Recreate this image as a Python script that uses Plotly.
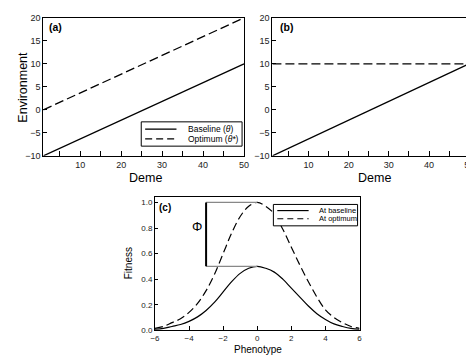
import plotly.graph_objects as go

# ---- data ----
deme = [1, 50]
baseline_env = [-10, 10]
optimum_env_a = [0, 20]
optimum_env_b = [10, 10]

phenotype = [-6, -5.5, -5, -4.5, -4, -3.5, -3, -2.5, -2, -1.5, -1, -0.5, 0,
             0.5, 1, 1.5, 2, 2.5, 3, 3.5, 4, 4.5, 5, 5.5, 6]
fit_optimum = [0.015, 0.03, 0.06, 0.09, 0.14, 0.21, 0.31, 0.44, 0.60, 0.76, 0.89, 0.97, 1.0,
               0.97, 0.91, 0.79, 0.65, 0.51, 0.38, 0.26, 0.16, 0.10, 0.06, 0.03, 0.015]
fit_baseline = [0.008, 0.015, 0.03, 0.045, 0.07, 0.105, 0.155, 0.22, 0.30, 0.38, 0.445, 0.485, 0.5,
                0.485, 0.455, 0.40, 0.33, 0.26, 0.19, 0.13, 0.085, 0.05, 0.03, 0.015, 0.008]

W, H = 474, 355
FONT = "Liberation Sans, Arial, sans-serif"
DASH = "9px,4px"


def px(x):
    return x / W


def py(y):
    return 1 - y / H


fig = go.Figure()

# panel a
fig.add_trace(go.Scatter(x=deme, y=baseline_env, mode="lines", line=dict(color="black", width=1.3),
                         xaxis="x", yaxis="y", showlegend=False, cliponaxis=False))
fig.add_trace(go.Scatter(x=deme, y=optimum_env_a, mode="lines", line=dict(color="black", width=1.3, dash=DASH),
                         xaxis="x", yaxis="y", showlegend=False, cliponaxis=False))
# panel b
fig.add_trace(go.Scatter(x=deme, y=baseline_env, mode="lines", line=dict(color="black", width=1.3),
                         xaxis="x2", yaxis="y2", showlegend=False, cliponaxis=False))
fig.add_trace(go.Scatter(x=deme, y=optimum_env_b, mode="lines", line=dict(color="black", width=1.3, dash=DASH),
                         xaxis="x2", yaxis="y2", showlegend=False, cliponaxis=False))
# panel c
fig.add_trace(go.Scatter(x=phenotype, y=fit_baseline, mode="lines", line=dict(color="black", width=1.2, shape="spline"),
                         xaxis="x3", yaxis="y3", showlegend=False))
fig.add_trace(go.Scatter(x=phenotype, y=fit_optimum, mode="lines",
                         line=dict(color="black", width=1.2, dash="8px,4px", shape="spline"),
                         xaxis="x3", yaxis="y3", showlegend=False))

tickfont = dict(family=FONT, size=9, color="#222")
common = dict(showgrid=False, zeroline=False, showline=True, mirror=True, linecolor="black", linewidth=1,
              ticks="inside", tickcolor="black", ticklen=5, tickfont=tickfont)

xa = dict(range=[1, 50], tick0=0, dtick=10, minor=dict(dtick=5, tick0=0, ticks="inside", ticklen=5, tickcolor="black"),
          **common)
ya = dict(range=[-10, 20], dtick=5, **{**common, "ticklen": 4})

fig.update_layout(
    width=W, height=H, margin=dict(l=0, r=0, t=0, b=0),
    paper_bgcolor="white", plot_bgcolor="white",
    xaxis=dict(domain=[px(31), px(236)], anchor="y", **xa),
    yaxis=dict(domain=[py(147), py(5)], anchor="x", **ya),
    xaxis2=dict(domain=[px(265), px(466)], anchor="y2", **xa),
    yaxis2=dict(domain=[py(147), py(5)], anchor="x2", **ya),
    xaxis3=dict(domain=[px(145), px(354)], anchor="y3", range=[-6, 6], dtick=2,
                **{**common, "tickfont": dict(family=FONT, size=8, color="#222"), "ticklen": 4}),
    yaxis3=dict(domain=[py(326.5), py(189)], anchor="x3", range=[0, 1.045], dtick=0.2, tickformat=".1f",
                **{**common, "tickfont": dict(family=FONT, size=8, color="#222"), "ticklen": 3}),
)

shapes = []
annotations = []


def text(x, y, s, size, bold=False, angle=0, xanchor="center"):
    annotations.append(dict(x=px(x), y=py(y), xref="paper", yref="paper", text=("<b>%s</b>" % s if bold else s),
                            showarrow=False, font=dict(family=FONT, size=size, color="black"),
                            textangle=angle, xanchor=xanchor, yanchor="middle"))


# axis titles and panel labels
text(10, 76, "Environment", 12.5, angle=-90)
text(135, 170, "Deme", 12.5)
text(369, 170, "Deme", 12.5)
text(118, 258, "Fitness", 10, angle=-90)
text(250, 346, "Phenotype", 10)
text(35, 14, "(a)", 10.5, bold=True, xanchor="left")
text(271, 14, "(b)", 10.5, bold=True, xanchor="left")
text(147, 200, "(c)", 10, bold=True, xanchor="left")

# legend panel a
shapes.append(dict(type="rect", xref="paper", yref="paper", x0=px(131), x1=px(234), y0=py(137), y1=py(112),
                   line=dict(color="black", width=1), fillcolor="white"))
shapes.append(dict(type="line", xref="paper", yref="paper", x0=px(135), x1=px(167), y0=py(119.5), y1=py(119.5),
                   line=dict(color="black", width=1.3)))
shapes.append(dict(type="line", xref="paper", yref="paper", x0=px(135), x1=px(167), y0=py(129.5), y1=py(129.5),
                   line=dict(color="black", width=1.3, dash="7px,4px")))
text(177, 119.5, "Baseline (<i>θ</i>)", 8.5, xanchor="left")
text(177, 129.5, "Optimum (<i>θ*</i>)", 8.5, xanchor="left")

# legend panel c
shapes.append(dict(type="rect", xref="paper", yref="paper", x0=px(266), x1=px(352), y0=py(219), y1=py(197),
                   line=dict(color="black", width=1), fillcolor="white"))
shapes.append(dict(type="line", xref="paper", yref="paper", x0=px(270), x1=px(302), y0=py(203.3), y1=py(203.3),
                   line=dict(color="black", width=1.2)))
shapes.append(dict(type="line", xref="paper", yref="paper", x0=px(270), x1=px(302), y0=py(211.7), y1=py(211.7),
                   line=dict(color="black", width=1.2, dash="6px,4px")))
text(311, 203.3, "At baseline", 7.5, xanchor="left")
text(311, 211.7, "At optimum", 7.5, xanchor="left")

# phi bracket in panel c
shapes.append(dict(type="line", xref="x3", yref="y3", x0=-3, x1=0, y0=1.0, y1=1.0, line=dict(color="#888", width=1.2)))
shapes.append(dict(type="line", xref="x3", yref="y3", x0=-3, x1=0, y0=0.5, y1=0.5, line=dict(color="#888", width=1.2)))
shapes.append(dict(type="line", xref="x3", yref="y3", x0=-3, x1=-3, y0=0.5, y1=1.0, line=dict(color="black", width=2)))
annotations.append(dict(x=-3.55, y=0.81, xref="x3", yref="y3", text="Φ", showarrow=False,
                        font=dict(family=FONT, size=13, color="black")))

fig.update_layout(shapes=shapes, annotations=annotations)
fig.write_html("out.html")
